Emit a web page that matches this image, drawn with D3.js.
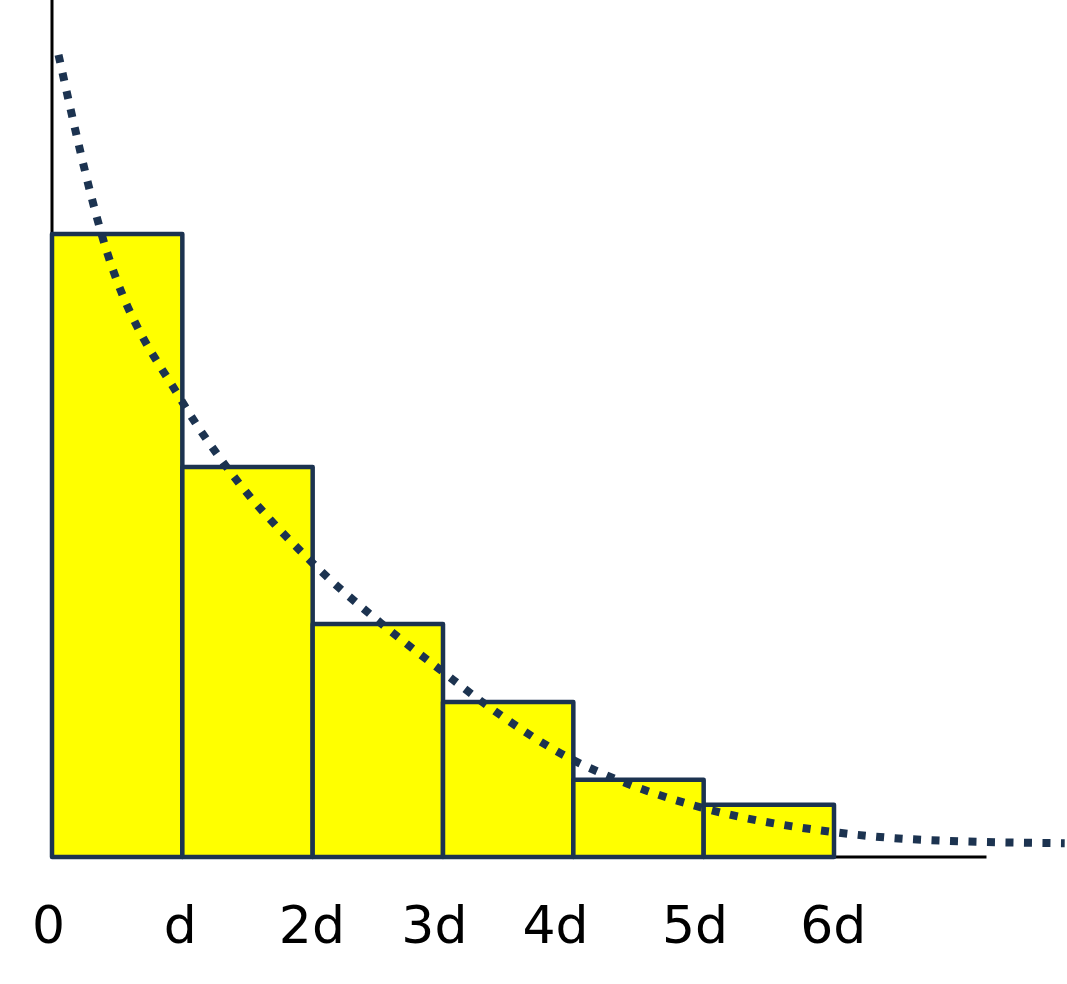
<!DOCTYPE html>
<html>
<head>
<meta charset="utf-8">
<script src="https://cdn.jsdelivr.net/npm/d3@7"></script>
<style>
  html, body { margin: 0; padding: 0; background: #fff; }
  text { font-family: "DejaVu Sans", sans-serif; }
</style>
</head>
<body>
<div id="chart"></div>
<script>
// Histogram bins of width d, with the decay curve drawn over them.
// Values are in arbitrary height units (axis top = 100).

const binStarts = [0, 1, 2, 3, 4, 5];
const binHeights = [72.7, 45.5, 27.2, 18.1, 9.0, 6.1];

// dotted curve (x in units of d)
const curveX = [0.05, 0.38, 1.0, 1.34, 2.0, 2.53, 3.0, 3.3, 4.0, 4.34, 5.0, 6.0, 6.68, 7.77];
const curveY = [93.6, 72.7, 53.1, 45.5, 34.3, 27.2, 21.6, 18.1, 11.3, 9.0, 5.7, 2.9, 2.0, 1.6];

// tick labels and where they sit under the axis (in units of d)
const tickLabels = ["0", "d", "2d", "3d", "4d", "5d", "6d"];
const tickAt = [-0.03, 0.98, 1.99, 2.93, 3.86, 4.93, 5.99];

const xAxisEnd = 7.17;

const width = 1067, height = 984;
const barColor = "#ffff00";
const navy = "#1c3350";

const svg = d3.select("#chart").append("svg")
  .attr("width", width)
  .attr("height", height);

const x = d3.scaleLinear().domain([0, 6]).range([52, 834]);
const y = d3.scaleLinear().domain([0, 100]).range([857, 0]);

// axes: plain lines
svg.append("line")
  .attr("x1", x(0)).attr("x2", x(0))
  .attr("y1", y(0)).attr("y2", y(100))
  .attr("stroke", "#000")
  .attr("stroke-width", 3);

svg.append("line")
  .attr("x1", x(6)).attr("x2", x(xAxisEnd))
  .attr("y1", y(0)).attr("y2", y(0))
  .attr("stroke", "#000")
  .attr("stroke-width", 3);

// bars
svg.append("g")
  .selectAll("rect")
  .data(binStarts)
  .join("rect")
  .attr("x", d => x(d))
  .attr("y", (d, i) => y(binHeights[i]))
  .attr("width", d => x(d + 1) - x(d))
  .attr("height", (d, i) => y(0) - y(binHeights[i]))
  .attr("fill", barColor)
  .attr("stroke", navy)
  .attr("stroke-width", 4.5)
  .attr("stroke-linejoin", "round");

// tick labels via an axis with no domain line or ticks
const labelFor = new Map(tickAt.map((v, i) => [v, tickLabels[i]]));
const xAxis = svg.append("g")
  .attr("transform", `translate(0,${y(0)})`)
  .call(d3.axisBottom(x)
    .tickValues(tickAt)
    .tickFormat(v => labelFor.get(v))
    .tickSize(0)
    .tickPadding(0));
xAxis.select(".domain").remove();
xAxis.selectAll("text")
  .attr("dy", null)
  .attr("y", 86)
  .attr("fill", "#000")
  .style("font-family", "'DejaVu Sans', sans-serif")
  .style("font-size", "52px");

// dotted decay curve
const points = curveX.map((v, i) => [v, curveY[i]]);
const line = d3.line()
  .x(d => x(d[0]))
  .y(d => y(d[1]))
  .curve(d3.curveMonotoneX);

svg.append("path")
  .datum(points)
  .attr("d", line)
  .attr("fill", "none")
  .attr("stroke", navy)
  .attr("stroke-width", 8)
  .attr("stroke-dasharray", "8 10.5");
</script>
</body>
</html>
